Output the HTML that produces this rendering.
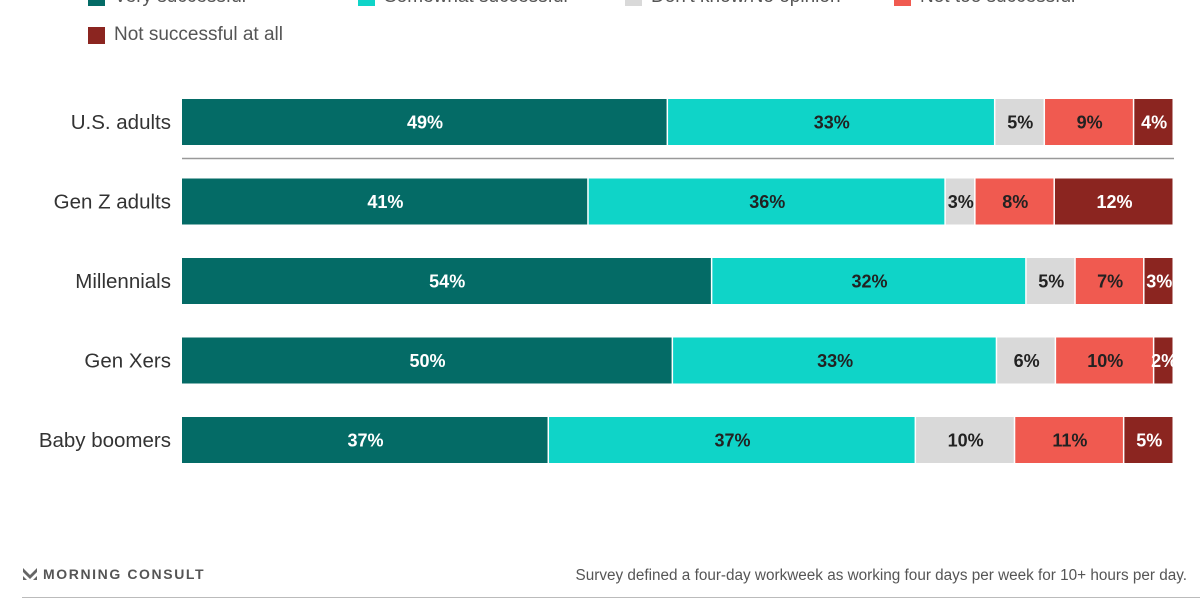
<!DOCTYPE html>
<html><head><meta charset="utf-8"><style>
body{margin:0;width:1200px;height:600px;background:#fff;overflow:hidden;position:relative;font-family:"Liberation Sans",sans-serif}
.leg{position:absolute;font-size:19px;color:#555;display:flex;align-items:center}
.leg i{display:inline-block;width:17px;height:17px;margin-right:9px}
</style></head><body>
<div class="leg" style="left:88px;top:-14px"><i style="background:#046b66"></i>Very successful</div>
<div class="leg" style="left:358px;top:-14px"><i style="background:#0fd4c8"></i>Somewhat successful</div>
<div class="leg" style="left:625px;top:-14px"><i style="background:#d9d9d9"></i>Don't know/No opinion</div>
<div class="leg" style="left:894px;top:-14px"><i style="background:#f05a50"></i>Not too successful</div>
<div class="leg" style="left:88px;top:24px"><i style="background:#8b2520"></i>Not successful at all</div>
<svg id="chart" width="1200" height="600" style="position:absolute;left:0;top:0"></svg>
<div style="position:absolute;left:22px;top:566px;font-size:14px;font-weight:bold;letter-spacing:1.6px;color:#555;display:flex;align-items:center"><svg width="16" height="16" viewBox="0 0 16 16" style="margin-right:5px"><path d="M1 2 L8 9 L15 2 L15 6 L8 13 L1 6Z" fill="#666"/><path d="M1 10 L5 14 L1 14Z M15 10 L11 14 L15 14Z" fill="#666"/></svg>MORNING CONSULT</div>
<div style="position:absolute;right:13px;top:567px;font-size:15.3px;color:#555">Survey defined a four-day workweek as working four days per week for 10+ hours per day.</div>
<div style="position:absolute;left:22px;top:597px;width:1178px;height:1px;background:#bbb"></div>
<script>
const categories=["U.S. adults","Gen Z adults","Millennials","Gen Xers","Baby boomers"];
const verySuccessful=[49,41,54,50,37];
const somewhatSuccessful=[33,36,32,33,37];
const dontKnow=[5,3,5,6,10];
const notTooSuccessful=[9,8,7,10,11];
const notSuccessfulAtAll=[4,12,3,2,5];
const seriesNames=["very-successful","somewhat-successful","dont-know","not-too-successful","not-successful-at-all"];
const series=[verySuccessful,somewhatSuccessful,dontKnow,notTooSuccessful,notSuccessfulAtAll];
const colors=["#046b66","#0fd4c8","#d9d9d9","#f05a50","#8b2520"];
const textColors=["#fff","#222","#222","#222","#fff"];
const svg=document.getElementById('chart');const NS="http://www.w3.org/2000/svg";
const x0=182,x1=1174,yStart=122,step=79.5,bh=46;
function yC(i){return yStart+i*step;}
function xS(v,t){return (x1-x0)*v/t;}
categories.forEach((c,i)=>{
 const tot=series.reduce((a,s)=>a+s[i],0);
 let x=x0;const y=yC(i);
 const lab=document.createElementNS(NS,'text');
 
 
 lab.setAttribute('x',171);lab.setAttribute('y',y+7);lab.setAttribute('text-anchor','end');
 lab.setAttribute('font-size','20.5');lab.setAttribute('fill','#333');lab.textContent=c;svg.appendChild(lab);
 series.forEach((s,k)=>{
  const w=xS(s[i],tot);
  const r=document.createElementNS(NS,'rect');
  
  
  r.setAttribute('x',x);r.setAttribute('y',y-bh/2);r.setAttribute('width',Math.max(w-1.5,0));r.setAttribute('height',bh);r.setAttribute('fill',colors[k]);svg.appendChild(r);
  const t=document.createElementNS(NS,'text');
  
  
  t.setAttribute('x',x+w/2);t.setAttribute('y',y+6.5);t.setAttribute('text-anchor','middle');
  t.setAttribute('font-size','18');t.setAttribute('font-weight','bold');t.setAttribute('fill',textColors[k]);
  t.textContent=s[i]+'%';svg.appendChild(t);
  x+=w;
 });
});
const l=document.createElementNS(NS,'line');


l.setAttribute('x1',x0);l.setAttribute('x2',x1);l.setAttribute('y1',158.5);l.setAttribute('y2',158.5);l.setAttribute('stroke','#999');l.setAttribute('stroke-width','1.5');svg.appendChild(l);
</script>
</body></html>
